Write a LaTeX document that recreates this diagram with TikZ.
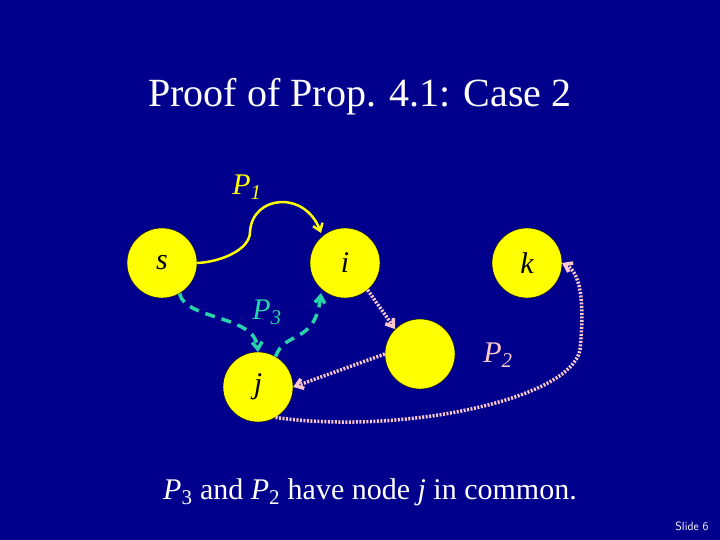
\documentclass[tikz,border=0pt]{standalone}
\usepackage{fontspec}
\setmainfont{Liberation Serif}
\usetikzlibrary{arrows.meta}
\definecolor{bg}{RGB}{0,0,140}
\definecolor{ny}{RGB}{255,255,0}
\definecolor{tl}{RGB}{40,210,170}
\definecolor{pk}{RGB}{250,200,200}
\begin{document}
\begin{tikzpicture}[x=1pt,y=-1pt,
  vert/.style={circle,fill=ny,draw=black,thin,minimum size=70pt,inner sep=0pt,font=\fontsize{30}{30}\selectfont\itshape},
  lab/.style={font=\fontsize{30}{30}\selectfont\itshape},
  pone/.style={ny,line width=2.5pt,-{Straight Barb[length=7pt,width=10pt]}},
  pthree/.style={tl,line width=3.5pt,dash pattern=on 10pt off 7pt,-{Straight Barb[length=7pt,width=10pt]}},
  ptwo/.style={pk,line width=3.5pt,dash pattern=on 2pt off 1.5pt,-{Straight Barb[length=7pt,width=10pt]}}]
\fill[bg] (0,0) rectangle (720,540);
\useasboundingbox (0,0) rectangle (720,540);
\node[white,font=\fontsize{40}{40}\selectfont] (title) at (360,97) {Proof of Prop. 4.1: Case 2};
\node[vert] (s) at (162,263) {s};
\node[vert] (i) at (345,263) {i};
\node[vert] (k) at (527,263) {k};
\node[vert] (m) at (420,354) {};
\node[vert] (j) at (258,387) {j};
\node[lab,ny] (p1) at (247,187) {P\textsubscript{1}};
\node[lab,tl] (p3) at (267,312) {P\textsubscript{3}};
\node[lab,pk] (p2) at (498,355) {P\textsubscript{2}};
\draw[pone] (s.east) .. controls (220,262) and (250,250) .. (250,232) .. controls (252,195) and (305,190) .. (321,233);
\draw[pthree] (s.300) .. controls (185,320) and (255,315) .. (258,352);
\draw[pthree] (j.60) .. controls (285,330) and (315,345) .. (321,293);
\draw[ptwo] (i.310) -- (m.135);
\draw[ptwo] (m.180) -- (j.east);
\draw[ptwo] (j.300) .. controls (400,435) and (570,400) .. (580,350) .. controls (585,300) and (580,272) .. (562,263);
\node[white,font=\fontsize{30}{30}\selectfont] (cap) at (370,492) {\textit{P}\textsubscript{3} and \textit{P}\textsubscript{2} have node \textit{j} in common.};
\node[white,font=\sffamily\fontsize{12}{12}\selectfont] (slide) at (692,526) {Slide 6};
\end{tikzpicture}
\end{document}
